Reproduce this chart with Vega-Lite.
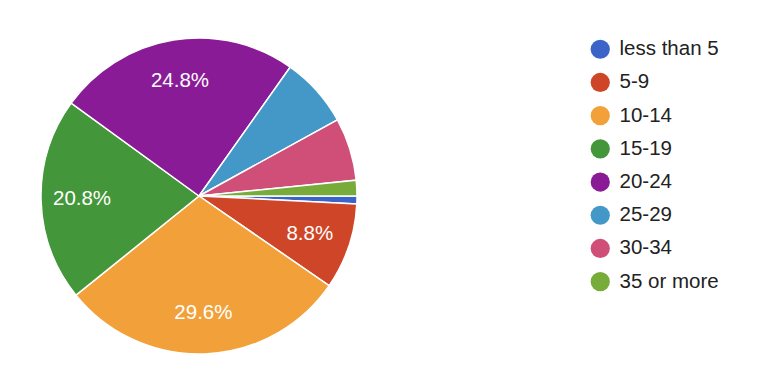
{
  "$schema": "https://vega.github.io/schema/vega-lite/v6.json",
  "width": 398,
  "height": 382,
  "padding": {"left": 0, "top": 5, "right": 0, "bottom": 0},
  "background": "white",
  "config": {"view": {"stroke": null}, "font": "Liberation Sans"},
  "data": {
    "values": [
      {"group": "less than 5", "pct": 0.8, "ord": 1},
      {"group": "5-9", "pct": 8.8, "ord": 2},
      {"group": "10-14", "pct": 29.6, "ord": 3},
      {"group": "15-19", "pct": 20.8, "ord": 4},
      {"group": "20-24", "pct": 24.8, "ord": 5},
      {"group": "25-29", "pct": 7.2, "ord": 6},
      {"group": "30-34", "pct": 6.4, "ord": 7},
      {"group": "35 or more", "pct": 1.6, "ord": 8}
    ]
  },
  "transform": [
    {"calculate": "datum.pct > 8 ? format(datum.pct, '.1f') + '%' : ''", "as": "label"}
  ],
  "encoding": {
    "theta": {"field": "pct", "type": "quantitative", "stack": true, "scale": {"range": [1.5708, 7.854]}},
    "order": {"field": "ord", "type": "quantitative"},
    "color": {
      "field": "group",
      "type": "nominal",
      "sort": ["less than 5", "5-9", "10-14", "15-19", "20-24", "25-29", "30-34", "35 or more"],
      "scale": {
        "domain": ["less than 5", "5-9", "10-14", "15-19", "20-24", "25-29", "30-34", "35 or more"],
        "range": ["#3b64c8", "#cf4527", "#f2a13a", "#43963a", "#8a1b96", "#4498c8", "#cf4f79", "#77ab3a"]
      },
      "legend": {
        "title": null,
        "orient": "none",
        "legendX": 590,
        "legendY": 34,
        "symbolType": "circle",
        "symbolSize": 370,
        "symbolStrokeWidth": 0,
        "labelFontSize": 20.5,
        "labelColor": "#222222",
        "labelOffset": 9,
        "rowPadding": 12.2,
        "labelFont": "Liberation Sans"
      }
    }
  },
  "layer": [
    {
      "mark": {"type": "arc", "outerRadius": 158, "stroke": "white", "strokeWidth": 1.5}
    },
    {
      "mark": {"type": "text", "radius": 117, "fontSize": 20.5, "fill": "white", "font": "Liberation Sans", "align": "center", "baseline": "middle"},
      "encoding": {
        "text": {"field": "label", "type": "nominal"},
        "color": {"value": "white"}
      }
    }
  ]
}
